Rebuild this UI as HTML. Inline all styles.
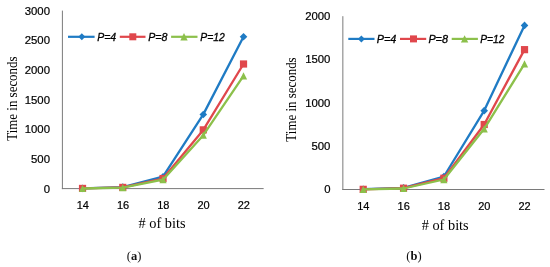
<!DOCTYPE html>
<html><head><meta charset="utf-8"><style>
html,body{margin:0;padding:0;background:#fff;}
svg{display:block}
.tk{font-family:"Liberation Sans",sans-serif;font-size:11px;fill:#000;stroke:#000;stroke-width:0.2px}
.lg{font-family:"Liberation Sans",sans-serif;font-size:10.8px;font-style:italic;fill:#000;stroke:#000;stroke-width:0.3px}
.ax{font-family:"Liberation Serif",serif;font-size:14.2px;fill:#000}
.cap{font-family:"Liberation Serif",serif;font-size:12.5px;fill:#111}
</style></head><body>
<svg width="550" height="267" viewBox="0 0 550 267">
<rect width="550" height="267" fill="#fff"/>
<line x1="62.4" y1="10.6" x2="62.4" y2="189.1" stroke="#7a7a7a" stroke-width="1"/>
<line x1="61.9" y1="188.6" x2="263.65" y2="188.6" stroke="#7a7a7a" stroke-width="1"/>
<text x="50.0" y="192.55" text-anchor="end" class="tk" textLength="6.3" lengthAdjust="spacingAndGlyphs">0</text>
<text x="50.0" y="162.91" text-anchor="end" class="tk" textLength="19.0" lengthAdjust="spacingAndGlyphs">500</text>
<text x="50.0" y="133.27" text-anchor="end" class="tk" textLength="25.3" lengthAdjust="spacingAndGlyphs">1000</text>
<text x="50.0" y="103.62" text-anchor="end" class="tk" textLength="25.3" lengthAdjust="spacingAndGlyphs">1500</text>
<text x="50.0" y="73.98" text-anchor="end" class="tk" textLength="25.3" lengthAdjust="spacingAndGlyphs">2000</text>
<text x="50.0" y="44.34" text-anchor="end" class="tk" textLength="25.3" lengthAdjust="spacingAndGlyphs">2500</text>
<text x="50.0" y="14.70" text-anchor="end" class="tk" textLength="25.3" lengthAdjust="spacingAndGlyphs">3000</text>
<text x="82.83" y="209.1" text-anchor="middle" class="tk">14</text>
<text x="123.08" y="209.1" text-anchor="middle" class="tk">16</text>
<text x="163.33" y="209.1" text-anchor="middle" class="tk">18</text>
<text x="203.58" y="209.1" text-anchor="middle" class="tk">20</text>
<text x="243.83" y="209.1" text-anchor="middle" class="tk">22</text>
<polyline fill="none" stroke="#1f7bc4" stroke-width="2.3" stroke-linejoin="round" points="82.5,188.4 122.8,187.1 163.0,176.7 203.3,114.4 243.5,36.7"/>
<path d="M82.53,184.62 L86.33,188.42 L82.53,192.22 L78.73,188.42Z" fill="#1f7bc4"/>
<path d="M122.78,183.32 L126.58,187.12 L122.78,190.92 L118.98,187.12Z" fill="#1f7bc4"/>
<path d="M163.03,172.93 L166.83,176.73 L163.03,180.53 L159.22,176.73Z" fill="#1f7bc4"/>
<path d="M203.28,110.63 L207.08,114.43 L203.28,118.23 L199.47,114.43Z" fill="#1f7bc4"/>
<path d="M243.53,32.91 L247.33,36.71 L243.53,40.51 L239.72,36.71Z" fill="#1f7bc4"/>
<polyline fill="none" stroke="#e0474c" stroke-width="2.3" stroke-linejoin="round" points="82.5,188.4 122.8,187.4 163.0,178.5 203.3,129.9 243.5,64.0"/>
<rect x="78.93" y="184.82" width="7.2" height="7.2" fill="#e0474c"/>
<rect x="119.18" y="183.81" width="7.2" height="7.2" fill="#e0474c"/>
<rect x="159.43" y="174.91" width="7.2" height="7.2" fill="#e0474c"/>
<rect x="199.68" y="126.26" width="7.2" height="7.2" fill="#e0474c"/>
<rect x="239.93" y="60.40" width="7.2" height="7.2" fill="#e0474c"/>
<polyline fill="none" stroke="#8cc04b" stroke-width="2.3" stroke-linejoin="round" points="82.5,188.5 122.8,187.7 163.0,179.7 203.3,135.2 243.5,75.9"/>
<path d="M82.53,184.88 L86.12,192.08 L78.93,192.08Z" fill="#8cc04b"/>
<path d="M122.78,184.11 L126.38,191.31 L119.18,191.31Z" fill="#8cc04b"/>
<path d="M163.03,176.10 L166.62,183.30 L159.43,183.30Z" fill="#8cc04b"/>
<path d="M203.28,131.60 L206.88,138.80 L199.68,138.80Z" fill="#8cc04b"/>
<path d="M243.53,72.27 L247.12,79.47 L239.93,79.47Z" fill="#8cc04b"/>
<line x1="68" y1="36.8" x2="94.6" y2="36.8" stroke="#1f7bc4" stroke-width="2.2"/>
<path d="M81.80,33.30 L85.30,36.80 L81.80,40.30 L78.30,36.80Z" fill="#1f7bc4"/>
<text x="97.2" y="40.699999999999996" class="lg" textLength="19" lengthAdjust="spacingAndGlyphs">P=4</text>
<line x1="119.8" y1="36.8" x2="145.5" y2="36.8" stroke="#e0474c" stroke-width="2.2"/>
<rect x="129.30" y="33.30" width="7.0" height="7.0" fill="#e0474c"/>
<text x="148.2" y="40.699999999999996" class="lg" textLength="19.2" lengthAdjust="spacingAndGlyphs">P=8</text>
<line x1="171.1" y1="36.8" x2="197.5" y2="36.8" stroke="#8cc04b" stroke-width="2.2"/>
<path d="M184.00,33.10 L187.70,40.50 L180.30,40.50Z" fill="#8cc04b"/>
<text x="200.3" y="40.699999999999996" class="lg" textLength="24.6" lengthAdjust="spacingAndGlyphs">P=12</text>
<text x="162" y="227.5" text-anchor="middle" class="ax" textLength="47" lengthAdjust="spacingAndGlyphs"># of bits</text>
<text transform="translate(17.3,98.6) rotate(-90)" text-anchor="middle" class="ax" textLength="84.3" lengthAdjust="spacingAndGlyphs">Time in seconds</text>
<text x="134" y="259.8" text-anchor="middle" class="cap">(<tspan font-weight="bold">a</tspan>)</text>
<line x1="342.85" y1="16.2" x2="342.85" y2="190.0" stroke="#7a7a7a" stroke-width="1"/>
<line x1="342.35" y1="189.5" x2="544.5" y2="189.5" stroke="#7a7a7a" stroke-width="1"/>
<text x="330.45000000000005" y="193.15" text-anchor="end" class="tk" textLength="6.3" lengthAdjust="spacingAndGlyphs">0</text>
<text x="330.45000000000005" y="149.91" text-anchor="end" class="tk" textLength="19.0" lengthAdjust="spacingAndGlyphs">500</text>
<text x="330.45000000000005" y="106.67" text-anchor="end" class="tk" textLength="25.3" lengthAdjust="spacingAndGlyphs">1000</text>
<text x="330.45000000000005" y="63.44" text-anchor="end" class="tk" textLength="25.3" lengthAdjust="spacingAndGlyphs">1500</text>
<text x="330.45000000000005" y="20.20" text-anchor="end" class="tk" textLength="25.3" lengthAdjust="spacingAndGlyphs">2000</text>
<text x="363.32" y="210.0" text-anchor="middle" class="tk">14</text>
<text x="403.65" y="210.0" text-anchor="middle" class="tk">16</text>
<text x="443.98" y="210.0" text-anchor="middle" class="tk">18</text>
<text x="484.31" y="210.0" text-anchor="middle" class="tk">20</text>
<text x="524.63" y="210.0" text-anchor="middle" class="tk">22</text>
<polyline fill="none" stroke="#1f7bc4" stroke-width="2.3" stroke-linejoin="round" points="363.2,189.2 403.5,187.8 443.9,176.5 484.2,110.6 524.5,25.4"/>
<path d="M363.22,185.44 L367.02,189.24 L363.22,193.04 L359.42,189.24Z" fill="#1f7bc4"/>
<path d="M403.55,183.97 L407.35,187.77 L403.55,191.57 L399.75,187.77Z" fill="#1f7bc4"/>
<path d="M443.88,172.70 L447.68,176.50 L443.88,180.30 L440.07,176.50Z" fill="#1f7bc4"/>
<path d="M484.21,106.85 L488.01,110.65 L484.21,114.45 L480.41,110.65Z" fill="#1f7bc4"/>
<path d="M524.53,21.58 L528.33,25.38 L524.53,29.18 L520.74,25.38Z" fill="#1f7bc4"/>
<polyline fill="none" stroke="#e0474c" stroke-width="2.3" stroke-linejoin="round" points="363.2,189.3 403.5,188.2 443.9,178.2 484.2,124.5 524.5,49.6"/>
<rect x="359.62" y="185.73" width="7.2" height="7.2" fill="#e0474c"/>
<rect x="399.94" y="184.60" width="7.2" height="7.2" fill="#e0474c"/>
<rect x="440.27" y="174.64" width="7.2" height="7.2" fill="#e0474c"/>
<rect x="480.61" y="120.91" width="7.2" height="7.2" fill="#e0474c"/>
<rect x="520.93" y="46.05" width="7.2" height="7.2" fill="#e0474c"/>
<polyline fill="none" stroke="#8cc04b" stroke-width="2.3" stroke-linejoin="round" points="363.2,189.3 403.5,188.5 443.9,179.5 484.2,128.8 524.5,63.9"/>
<path d="M363.22,185.73 L366.82,192.93 L359.62,192.93Z" fill="#8cc04b"/>
<path d="M403.55,184.86 L407.15,192.06 L399.94,192.06Z" fill="#8cc04b"/>
<path d="M443.88,175.94 L447.48,183.14 L440.27,183.14Z" fill="#8cc04b"/>
<path d="M484.21,125.25 L487.81,132.44 L480.61,132.44Z" fill="#8cc04b"/>
<path d="M524.53,60.26 L528.13,67.46 L520.93,67.46Z" fill="#8cc04b"/>
<line x1="348.3" y1="38.9" x2="374.5" y2="38.9" stroke="#1f7bc4" stroke-width="2.2"/>
<path d="M361.40,35.40 L364.90,38.90 L361.40,42.40 L357.90,38.90Z" fill="#1f7bc4"/>
<text x="376.7" y="42.8" class="lg" textLength="19.6" lengthAdjust="spacingAndGlyphs">P=4</text>
<line x1="400" y1="38.9" x2="426.2" y2="38.9" stroke="#e0474c" stroke-width="2.2"/>
<rect x="410.00" y="35.40" width="7.0" height="7.0" fill="#e0474c"/>
<text x="428.4" y="42.8" class="lg" textLength="19.6" lengthAdjust="spacingAndGlyphs">P=8</text>
<line x1="451.7" y1="38.9" x2="477.9" y2="38.9" stroke="#8cc04b" stroke-width="2.2"/>
<path d="M464.60,35.20 L468.30,42.60 L460.90,42.60Z" fill="#8cc04b"/>
<text x="480.2" y="42.8" class="lg" textLength="24.2" lengthAdjust="spacingAndGlyphs">P=12</text>
<text x="445.2" y="229.6" text-anchor="middle" class="ax" textLength="47" lengthAdjust="spacingAndGlyphs"># of bits</text>
<text transform="translate(296.3,99.5) rotate(-90)" text-anchor="middle" class="ax" textLength="84.3" lengthAdjust="spacingAndGlyphs">Time in seconds</text>
<text x="414" y="259.8" text-anchor="middle" class="cap">(<tspan font-weight="bold">b</tspan>)</text>
</svg></body></html>
